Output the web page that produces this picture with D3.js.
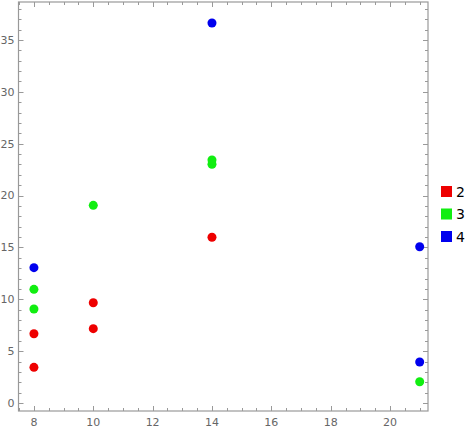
<!DOCTYPE html>
<html>
<head>
<meta charset="utf-8">
<script src="https://cdn.jsdelivr.net/npm/d3@7"></script>
<style>
  html, body { margin: 0; padding: 0; background: #fff; }
  svg { display: block; }
</style>
</head>
<body>
<svg id="vis" width="474" height="430"></svg>
<script>
// series names and colours (legend order)
var seriesNames = ["2", "3", "4"];
var seriesColors = ["#ee0000", "#11ee11", "#0000ee"];

// x / y values for each series
var redX = [8, 8, 10, 10, 14];
var redY = [3.44, 6.68, 7.17, 9.67, 15.98];
var greenX = [8, 8, 10, 14, 14, 21];
var greenY = [9.06, 10.96, 19.06, 23.02, 23.43, 2.05];
var blueX = [8, 14, 21, 21];
var blueY = [13.05, 36.64, 3.95, 15.07];

var xTicks = [8, 10, 12, 14, 16, 18, 20];
var yTicks = [0, 5, 10, 15, 20, 25, 30, 35];

var MARGINS = {top: 2, right: 46, bottom: 19, left: 18.5};
var width = 474, height = 430;

run();

function run() {
    var display = d3.select("#vis");

    var seriesData = [
        redX.map((x, i) => ({x: x, y: redY[i]})),
        greenX.map((x, i) => ({x: x, y: greenY[i]})),
        blueX.map((x, i) => ({x: x, y: blueY[i]}))
    ];

    var xScale = d3.scaleLinear()
        .domain([7.48, 21.28])
        .range([MARGINS.left, width - MARGINS.right]);
    var yScale = d3.scaleLinear()
        .domain([-0.77, 38.66])
        .range([height - MARGINS.bottom, MARGINS.top]);

    var x0 = xScale.range()[0], x1 = xScale.range()[1];
    var y0 = yScale.range()[0], y1 = yScale.range()[1];

    var frameColor = "#999";
    var labelColor = "#666";

    // minor ticks
    var xMinor = d3.range(7.5, 21.01, 0.5).filter(v => xTicks.indexOf(v) < 0);
    var yMinor = d3.range(0, 38.01, 1).filter(v => yTicks.indexOf(v) < 0);

    var ticks = display.append("g")
        .attr("stroke", frameColor)
        .attr("stroke-width", 1);

    // bottom + top ticks (pointing inward)
    function xTick(v, len) {
        var px = Math.round(xScale(v)) + 0.5;
        ticks.append("line").attr("x1", px).attr("x2", px).attr("y1", y0).attr("y2", y0 - len);
        ticks.append("line").attr("x1", px).attr("x2", px).attr("y1", y1).attr("y2", y1 + len);
    }
    function yTick(v, len) {
        var py = Math.round(yScale(v)) + 0.5;
        ticks.append("line").attr("x1", x0).attr("x2", x0 + len).attr("y1", py).attr("y2", py);
        ticks.append("line").attr("x1", x1).attr("x2", x1 - len).attr("y1", py).attr("y2", py);
    }
    xTicks.forEach(v => xTick(v, 5));
    xMinor.forEach(v => xTick(v, 3));
    yTicks.forEach(v => yTick(v, 5));
    yMinor.forEach(v => yTick(v, 3));

    // frame
    display.append("rect")
        .attr("x", x0)
        .attr("y", y1)
        .attr("width", x1 - x0)
        .attr("height", y0 - y1)
        .attr("fill", "none")
        .attr("stroke", frameColor)
        .attr("stroke-width", 1.2);

    // tick labels
    display.append("g").selectAll("text")
        .data(xTicks)
        .enter().append("text")
        .attr("x", d => xScale(d))
        .attr("y", y0 + 15)
        .attr("text-anchor", "middle")
        .style("font-family", "DejaVu Sans, sans-serif")
        .style("font-size", "11px")
        .style("fill", labelColor)
        .text(d => d);

    display.append("g").selectAll("text")
        .data(yTicks)
        .enter().append("text")
        .attr("x", x0 - 4)
        .attr("y", d => yScale(d))
        .attr("dy", "0.35em")
        .attr("text-anchor", "end")
        .style("font-family", "DejaVu Sans, sans-serif")
        .style("font-size", "11px")
        .style("fill", labelColor)
        .text(d => d);

    // points
    display.append("g").selectAll("g")
        .data(seriesData)
        .enter().append("g")
        .attr("fill", (d, i) => seriesColors[i])
        .selectAll("circle")
        .data(d => d)
        .enter().append("circle")
        .attr("cx", d => xScale(d.x))
        .attr("cy", d => yScale(d.y))
        .attr("r", 4.5);

    // legend
    var legend = display.selectAll(".legend")
        .data(seriesNames)
        .enter().append("g")
        .attr("class", "legend")
        .attr("transform", (d, i) => "translate(441," + (186 + i * 22.5) + ")");

    legend.append("rect")
        .attr("width", 11)
        .attr("height", 11)
        .attr("fill", (d, i) => seriesColors[i]);

    legend.append("text")
        .attr("x", 15)
        .attr("y", 5.5)
        .attr("dy", "0.36em")
        .style("font-family", "DejaVu Sans, sans-serif")
        .style("font-size", "14px")
        .style("fill", "#000")
        .text(d => d);
}
</script>
</body>
</html>
